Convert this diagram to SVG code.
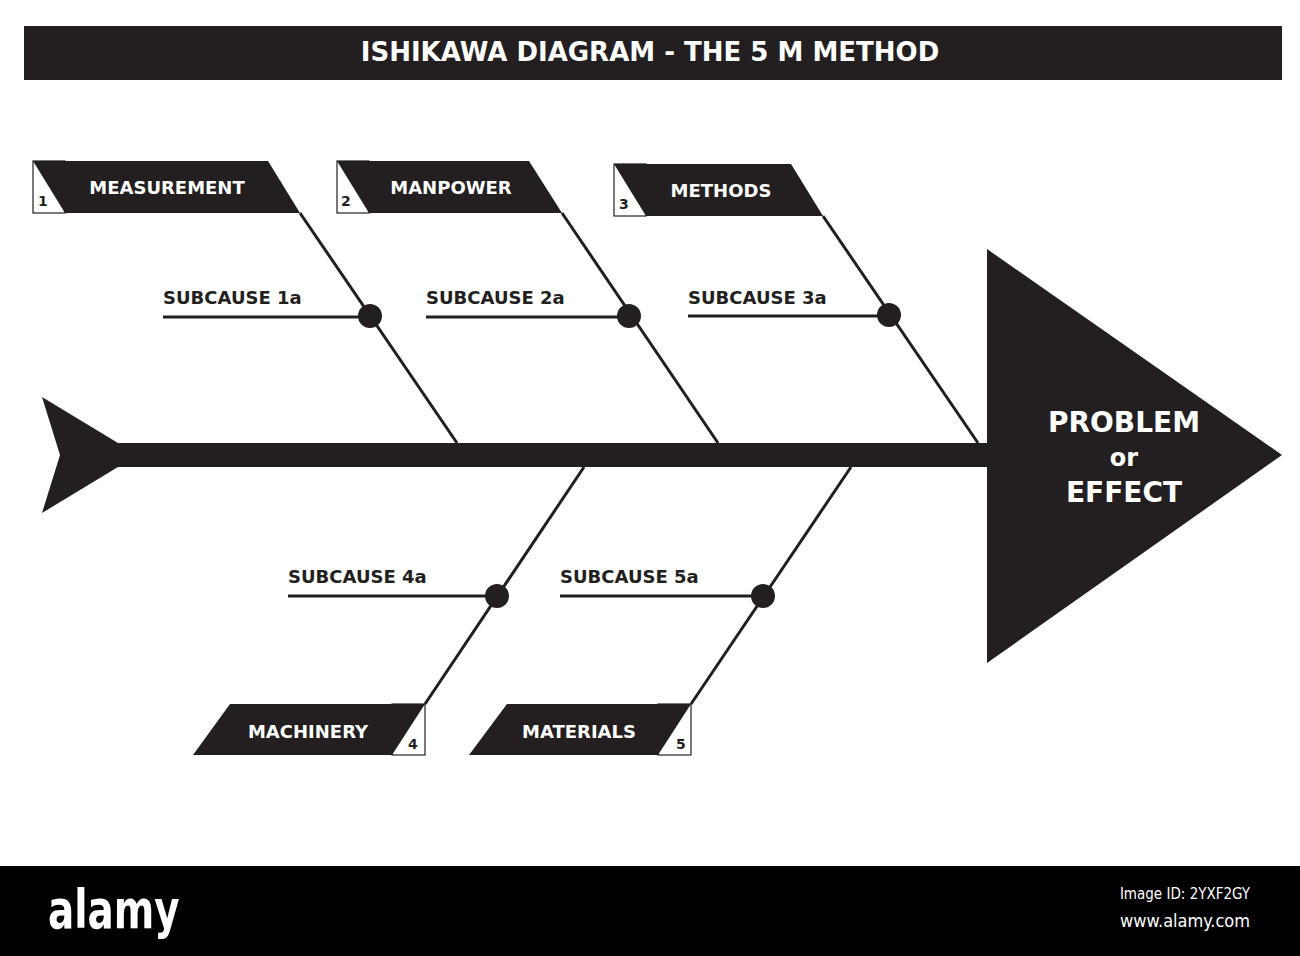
<svg xmlns="http://www.w3.org/2000/svg" width="1300" height="956" viewBox="0 0 1300 956">
<style>
.t{font-family:"DejaVu Sans",sans-serif;font-weight:bold;}
.lbl{fill:#fff;font-size:18px;text-anchor:middle;}
.sub{fill:#231f20;font-size:18px;}
.num{fill:#231f20;font-size:14px;}
.bone{stroke:#231f20;stroke-width:3;fill:none;}
.blk{fill:#231f20;}
.wb{fill:#fff;stroke:#231f20;stroke-width:1.2;}
</style>
<rect width="1300" height="956" fill="#fff"/>
<rect x="24" y="26" width="1258" height="54" class="blk"/>
<text x="650" y="61" class="t" fill="#fff" font-size="26" text-anchor="middle">ISHIKAWA DIAGRAM - THE 5 M METHOD</text>
<g id="connectors">
<path class="bone" d="M300,213 L457,443 M562,213 L718,443 M823,216 L978,443 M584,467 L425,704 M851,467 L691,704"/>
<path class="bone" d="M163,317 H370 M426,317 H629 M688,316 H889 M288,596 H497 M560,596 H763"/>
<circle cx="370" cy="316" r="12" class="blk"/>
<circle cx="629" cy="316" r="12" class="blk"/>
<circle cx="889" cy="315" r="12" class="blk"/>
<circle cx="497" cy="596" r="12" class="blk"/>
<circle cx="763" cy="596" r="12" class="blk"/>
</g>
<g id="spine">
<rect x="110" y="443" width="930" height="24" class="blk"/>
<polygon points="42,397 118,443 118,467 42,513 60,455" class="blk"/>
</g>
<g id="effect">
<polygon points="987,249 1282,455 987,663" class="blk"/>
<text class="t" fill="#fff" font-size="28" text-anchor="middle"><tspan x="1124" y="432">PROBLEM</tspan><tspan x="1124" y="466" font-size="24">or</tspan><tspan x="1124" y="502">EFFECT</tspan></text>
</g>
<g id="measurement">
<rect x="33" y="161" width="32" height="52" class="wb"/>
<polygon points="33,161 268,161 300,213 65,213" class="blk"/>
<text x="38" y="206" class="t num">1</text>
<text x="167" y="194" class="t lbl">MEASUREMENT</text>
<text x="163" y="304" class="t sub">SUBCAUSE 1a</text>
</g>
<g id="manpower">
<rect x="337" y="161" width="32" height="52" class="wb"/>
<polygon points="337,161 529,161 562,213 369,213" class="blk"/>
<text x="341" y="206" class="t num">2</text>
<text x="451" y="194" class="t lbl">MANPOWER</text>
<text x="426" y="304" class="t sub">SUBCAUSE 2a</text>
</g>
<g id="methods">
<rect x="614" y="164" width="32" height="52" class="wb"/>
<polygon points="614,164 791,164 823,216 646,216" class="blk"/>
<text x="619" y="209" class="t num">3</text>
<text x="721" y="197" class="t lbl">METHODS</text>
<text x="688" y="304" class="t sub">SUBCAUSE 3a</text>
</g>
<g id="machinery">
<rect x="392" y="704" width="33" height="51" class="wb"/>
<polygon points="230,704 425,704 392,755 193,755" class="blk"/>
<text x="408" y="749" class="t num">4</text>
<text x="308" y="738" class="t lbl">MACHINERY</text>
<text x="288" y="583" class="t sub">SUBCAUSE 4a</text>
</g>
<g id="materials">
<rect x="658" y="704" width="33" height="51" class="wb"/>
<polygon points="507,704 691,704 658,755 469,755" class="blk"/>
<text x="676" y="749" class="t num">5</text>
<text x="579" y="738" class="t lbl">MATERIALS</text>
<text x="560" y="583" class="t sub">SUBCAUSE 5a</text>
</g>
<rect x="0" y="866" width="1300" height="90" fill="#000"/>
<text x="48" y="928" font-family="'Liberation Sans Narrow','DejaVu Sans Condensed',sans-serif" font-weight="bold" font-size="54" fill="#fff" transform="translate(48 0) scale(0.8 1) translate(-48 0)">alamy</text>
<text x="1250" y="899" font-family="'DejaVu Sans Condensed',sans-serif" font-size="15" fill="#fff" text-anchor="end">Image ID: 2YXF2GY</text>
<text x="1250" y="927" font-family="'DejaVu Sans Condensed',sans-serif" font-size="18" fill="#fff" text-anchor="end">www.alamy.com</text>
</svg>
